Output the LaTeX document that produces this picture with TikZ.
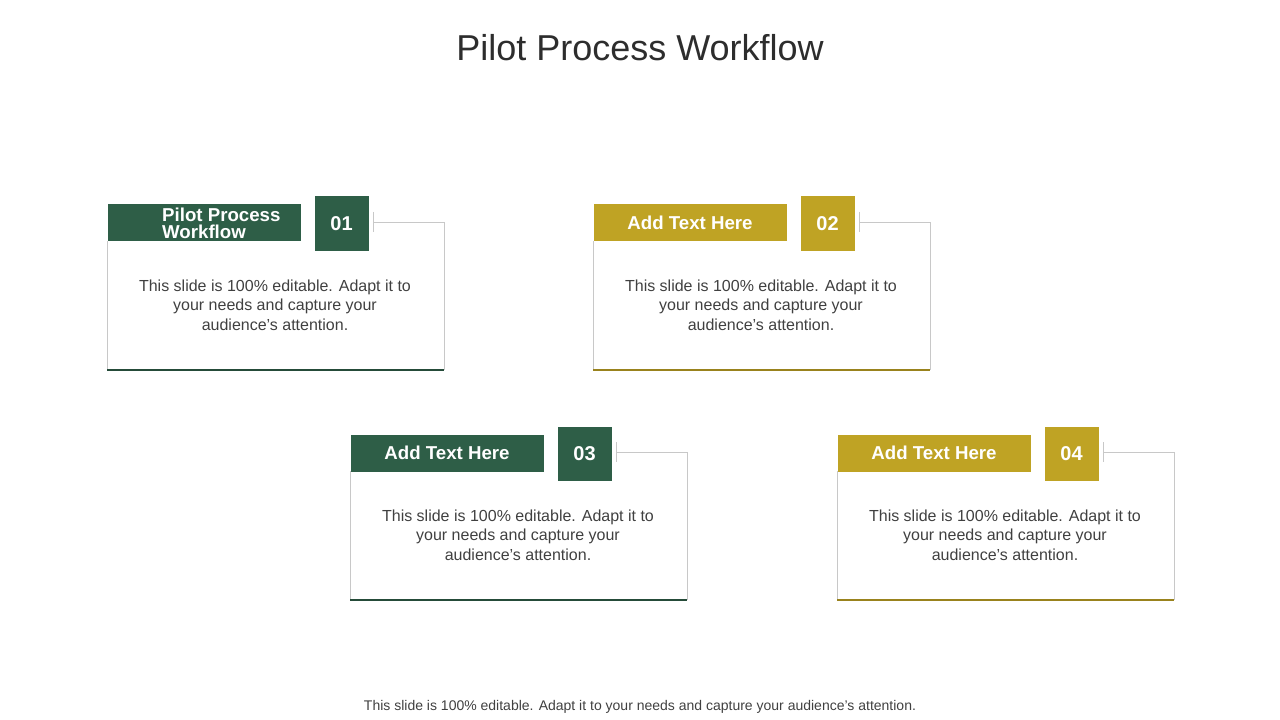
\documentclass[tikz,border=0pt]{standalone}
\usepackage{fontspec}
\setmainfont{Liberation Sans}
\definecolor{pgreen}{RGB}{46,94,71}
\definecolor{pgold}{RGB}{191,163,36}
\definecolor{ptext}{RGB}{64,64,64}
\definecolor{pframe}{RGB}{200,200,200}
\tikzset{every picture/.style={line width=0.75pt},
  bar/.style={inner sep=0pt,minimum width=144.75pt,minimum height=27.75pt,text=white,font=\bfseries\fontsize{14}{13}\selectfont,align=left},
  badge/.style={inner sep=0pt,minimum width=40.5pt,minimum height=40.5pt,text=white,font=\bfseries\fontsize{15}{15}\selectfont},
  body/.style={text=ptext,font=\fontsize{12}{14.5}\selectfont,align=center}}

\begin{document}
\begin{tikzpicture}[x=0.75pt,y=0.75pt,yscale=-1,xscale=1]
	\useasboundingbox (0,0) rectangle (1280,720);

	% Title
	\node (title) at (640,48) {\fontsize{27}{30}\selectfont\color{ptext!70!black}Pilot Process Workflow};

	% Cards: x, y, colour, number, label
	\foreach \x/\y/\c/\n/\l in {107/222/pgreen/01/{\hspace*{26pt}Pilot Process\\\hspace*{26pt}Workflow},593/222/pgold/02/Add Text Here,350/452/pgreen/03/Add Text Here,837/452/pgold/04/Add Text Here}{
		% frame
		\draw [pframe,line width=0.6pt] (\x,\y+19) -- (\x,\y+148) (\x+266,\y) -- (\x+337,\y) -- (\x+337,\y+148);
		\draw [pframe,line width=0.6pt] (\x+266,\y-10) -- (\x+266,\y+10);
		\draw [\c!80!black,line width=1pt] (\x,\y+148) -- (\x+337,\y+148);
		% label bar and badge
		\node [bar,fill=\c,anchor=north west] (bar\n) at (\x,\y-18) {};
		\node [text=white,font=\bfseries\fontsize{14}{13}\selectfont,align=left] (lab\n) at (bar\n.center) {\l};
		\node [badge,fill=\c,anchor=north west] (num\n) at (\x+207,\y-26) {\n};
		% body
		\node [body] (txt\n) at (\x+168,\y+83) {This slide is 100\% editable. Adapt it to\\your needs and capture your\\audience's attention.};
	}

	% Footer
	\node [text=ptext,font=\fontsize{10.5}{12}\selectfont] (foot) at (640,707) {This slide is 100\% editable. Adapt it to your needs and capture your audience's attention.};
\end{tikzpicture}
\end{document}
